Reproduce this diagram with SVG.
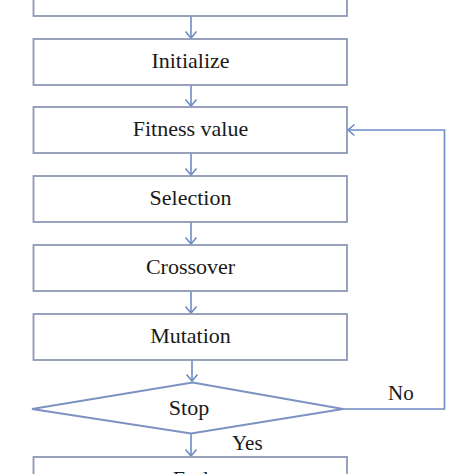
<svg xmlns="http://www.w3.org/2000/svg" width="474" height="474" viewBox="0 0 474 474">
  <defs>
    <style>
      .box { fill: #ffffff; stroke: #8e98b6; stroke-width: 1.8; }
      .lbl { font-family: "Liberation Serif", "Times New Roman", serif; font-size: 22px; fill: #1a1a1a; text-anchor: middle; }
      .edge { fill: none; stroke: #6d8cc4; stroke-width: 1.6; }
      .tag { font-family: "Liberation Serif", "Times New Roman", serif; font-size: 21px; fill: #1a1a1a; }
    </style>
    <marker id="arr" viewBox="-8 -7 10 14" refX="0" refY="0" markerWidth="10" markerHeight="14" markerUnits="userSpaceOnUse" orient="auto">
      <path d="M-6.5,-5.5 L0,0 L-6.5,5.5" fill="none" stroke="#6d8cc4" stroke-width="1.6"/>
    </marker>
  </defs>
  <rect width="474" height="474" fill="#ffffff"/>

  <g id="connectors">
    <line class="edge" x1="191" y1="16" x2="191" y2="38" marker-end="url(#arr)"/>
    <line class="edge" x1="191" y1="85" x2="191" y2="106" marker-end="url(#arr)"/>
    <line class="edge" x1="191" y1="153" x2="191" y2="175" marker-end="url(#arr)"/>
    <line class="edge" x1="191" y1="222" x2="191" y2="244" marker-end="url(#arr)"/>
    <line class="edge" x1="191" y1="291" x2="191" y2="313" marker-end="url(#arr)"/>
    <line class="edge" x1="192" y1="360" x2="192" y2="381" marker-end="url(#arr)"/>
    <line class="edge" x1="191" y1="433" x2="191" y2="456" marker-end="url(#arr)"/>
    <polyline class="edge" points="343,409 444.5,409 444.5,130 348,130" marker-end="url(#arr)"/>
    <text class="tag" x="388" y="400">No</text>
    <text class="tag" x="232" y="450">Yes</text>
  </g>

  <g id="start">
    <rect class="box" x="33.5" y="-30" width="313.5" height="46"/>
  </g>
  <g id="initialize">
    <rect class="box" x="33.5" y="39" width="313.5" height="46"/>
    <text class="lbl" x="190.5" y="68">Initialize</text>
  </g>
  <g id="fitness">
    <rect class="box" x="33.5" y="107" width="313.5" height="46"/>
    <text class="lbl" x="190.5" y="136">Fitness value</text>
  </g>
  <g id="selection">
    <rect class="box" x="33.5" y="176" width="313.5" height="46"/>
    <text class="lbl" x="190.5" y="205">Selection</text>
  </g>
  <g id="crossover">
    <rect class="box" x="33.5" y="245" width="313.5" height="46"/>
    <text class="lbl" x="190.5" y="274">Crossover</text>
  </g>
  <g id="mutation">
    <rect class="box" x="33.5" y="314" width="313.5" height="46"/>
    <text class="lbl" x="190.5" y="343">Mutation</text>
  </g>
  <g id="stop">
    <polygon class="box" style="stroke:#7d92c2" points="192.5,382.5 343,409 191,433.5 32,409"/>
    <text class="lbl" x="189" y="415">Stop</text>
  </g>
  <g id="end">
    <rect class="box" x="33.5" y="457" width="313.5" height="46"/>
    <text class="lbl" x="190.5" y="486">End</text>
  </g>
</svg>
